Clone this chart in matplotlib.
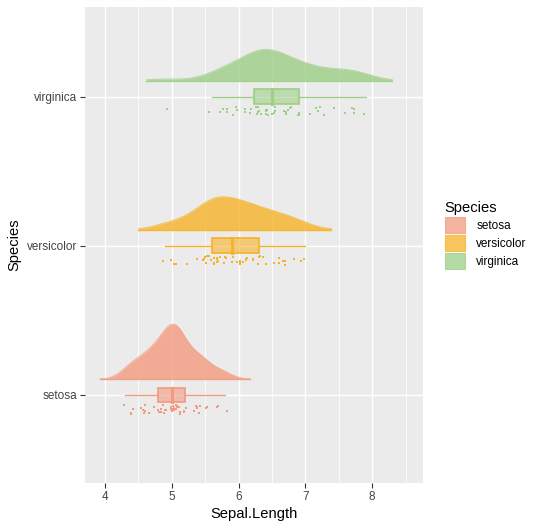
import numpy as np
import matplotlib as mpl
import matplotlib.pyplot as plt
from matplotlib.patches import Patch

mpl.rcParams["font.family"] = ["Liberation Sans", "DejaVu Sans"]

species = ["setosa", "versicolor", "virginica"]

setosa = [5.1, 4.9, 4.7, 4.6, 5.0, 5.4, 4.6, 5.0, 4.4, 4.9, 5.4, 4.8, 4.8, 4.3, 5.8, 5.7, 5.4,
          5.1, 5.7, 5.1, 5.4, 5.1, 4.6, 5.1, 4.8, 5.0, 5.0, 5.2, 5.2, 4.7, 4.8, 5.4, 5.2, 5.5,
          4.9, 5.0, 5.5, 4.9, 4.4, 5.1, 5.0, 4.5, 4.4, 5.0, 5.1, 4.8, 5.1, 4.6, 5.3, 5.0]
versicolor = [7.0, 6.4, 6.9, 5.5, 6.5, 5.7, 6.3, 4.9, 6.6, 5.2, 5.0, 5.9, 6.0, 6.1, 5.6, 6.7, 5.6,
              5.8, 6.2, 5.6, 5.9, 6.1, 6.3, 6.1, 6.4, 6.6, 6.8, 6.7, 6.0, 5.7, 5.5, 5.5, 5.8, 6.0,
              5.4, 6.0, 6.7, 6.3, 5.6, 5.5, 5.5, 6.1, 5.8, 5.0, 5.6, 5.7, 5.7, 6.2, 5.1, 5.7]
virginica = [6.3, 5.8, 7.1, 6.3, 6.5, 7.6, 4.9, 7.3, 6.7, 7.2, 6.5, 6.4, 6.8, 5.7, 5.8, 6.4, 6.5,
             7.7, 7.7, 6.0, 6.9, 5.6, 7.7, 6.3, 6.7, 7.2, 6.2, 6.1, 6.4, 7.2, 7.4, 7.9, 6.4, 6.3,
             6.1, 7.7, 6.3, 6.4, 6.0, 6.9, 6.7, 6.9, 5.8, 6.8, 6.7, 6.7, 6.3, 6.5, 6.2, 5.9]

# density smoothing and drawn range
bandwidths = [0.15, 0.26, 0.27]
dens_lo = [3.93, 4.50, 4.62]
dens_hi = [6.17, 7.39, 8.30]

line_colors = ["#F39A7F", "#F7B229", "#9DCF86"]
xticks = [4, 5, 6, 7, 8]

DENS_SCALE = 0.32   # data units per density unit
DENS_OFF = 0.107
BOX_H = 0.1


def kde(x, grid, bw):
    x = np.asarray(x)
    z = (grid[:, None] - x[None, :]) / bw
    return np.exp(-0.5 * z ** 2).sum(axis=1) / (len(x) * bw * np.sqrt(2 * np.pi))


fig = plt.figure(figsize=(5.43, 5.29), dpi=100)
ax = fig.add_axes([85 / 543, 1 - 483 / 529, (423 - 85) / 543, (483 - 7) / 529])
ax.set_facecolor("#EBEBEB")

groups = [setosa, versicolor, virginica]
for i, (vals, col) in enumerate(zip(groups, line_colors)):
    y0 = i + 1
    vals = np.asarray(vals)
    grid = np.linspace(dens_lo[i], dens_hi[i], 400)
    d = kde(vals, grid, bandwidths[i])
    base = y0 + DENS_OFF
    ax.fill_between(grid, base, base + d * DENS_SCALE, color=col, alpha=0.8, lw=0, zorder=3)
    ax.plot(grid, base + d * DENS_SCALE, color=col, alpha=0.8, lw=0.6, zorder=3)
    ax.plot([grid[0], grid[-1]], [base, base], color=col, lw=1.0, alpha=0.9, zorder=3)

    q1, med, q3 = np.percentile(vals, [25, 50, 75])
    iqr = q3 - q1
    lo = vals[vals >= q1 - 1.5 * iqr].min()
    hi = vals[vals <= q3 + 1.5 * iqr].max()
    ax.plot([lo, q1], [y0, y0], color=col, lw=1.0, zorder=4)
    ax.plot([q3, hi], [y0, y0], color=col, lw=1.0, zorder=4)
    ax.add_patch(plt.Rectangle((q1, y0 - BOX_H / 2), q3 - q1, BOX_H, facecolor=col,
                               alpha=0.6, edgecolor="none", zorder=4))
    ax.add_patch(plt.Rectangle((q1, y0 - BOX_H / 2), q3 - q1, BOX_H, facecolor="none",
                               edgecolor=col, lw=1.2, zorder=5))
    ax.plot([med, med], [y0 - BOX_H / 2, y0 + BOX_H / 2], color=col, lw=2.2, zorder=5)

    # jitter below the box (fixed pattern)
    k = np.arange(len(vals))
    jy = ((k * 0.618034 + i * 0.31) % 1.0)
    jx = (((k * 0.414214 + i * 0.17) % 1.0) - 0.5) * 0.08
    ax.scatter(vals + jx, y0 - 0.067 - jy * 0.06, s=2.4, marker="s", color=col,
               linewidths=0, zorder=4)

ax.set_xlim(3.70, 8.76)
ax.set_ylim(0.41, 3.60)
ax.set_xticks(xticks)
ax.set_xticks([4.5, 5.5, 6.5, 7.5, 8.5], minor=True)
ax.set_yticks([1, 2, 3])
ax.set_yticklabels(species)
ax.grid(which="major", color="white", lw=1.07, zorder=0)
ax.grid(which="minor", axis="x", color="white", lw=0.55, zorder=0)
ax.set_axisbelow(True)
for s in ax.spines.values():
    s.set_visible(False)
ax.tick_params(axis="both", which="major", length=3.7, width=0.8, color="#333333",
               labelsize=8.45, labelcolor="#444444", pad=2)
ax.tick_params(axis="both", which="minor", length=0)

ax.set_xlabel("Sepal.Length", fontsize=10.6, labelpad=3)
ax.set_ylabel("Species", fontsize=10.6, labelpad=4)

handles = [Patch(facecolor=c, alpha=0.75, edgecolor=c, lw=0.8) for c in line_colors]
leg = fig.legend(handles, species, title="Species", loc="upper left",
                 bbox_to_anchor=(440 / 543, 1 - 196 / 529), frameon=False,
                 fontsize=8.45, title_fontsize=10.6, handlelength=1.7, handleheight=1.7,
                 handletextpad=1.0, labelspacing=0.2, borderaxespad=0)
leg._legend_box.align = "left"

fig.savefig("out.png", dpi=100)
